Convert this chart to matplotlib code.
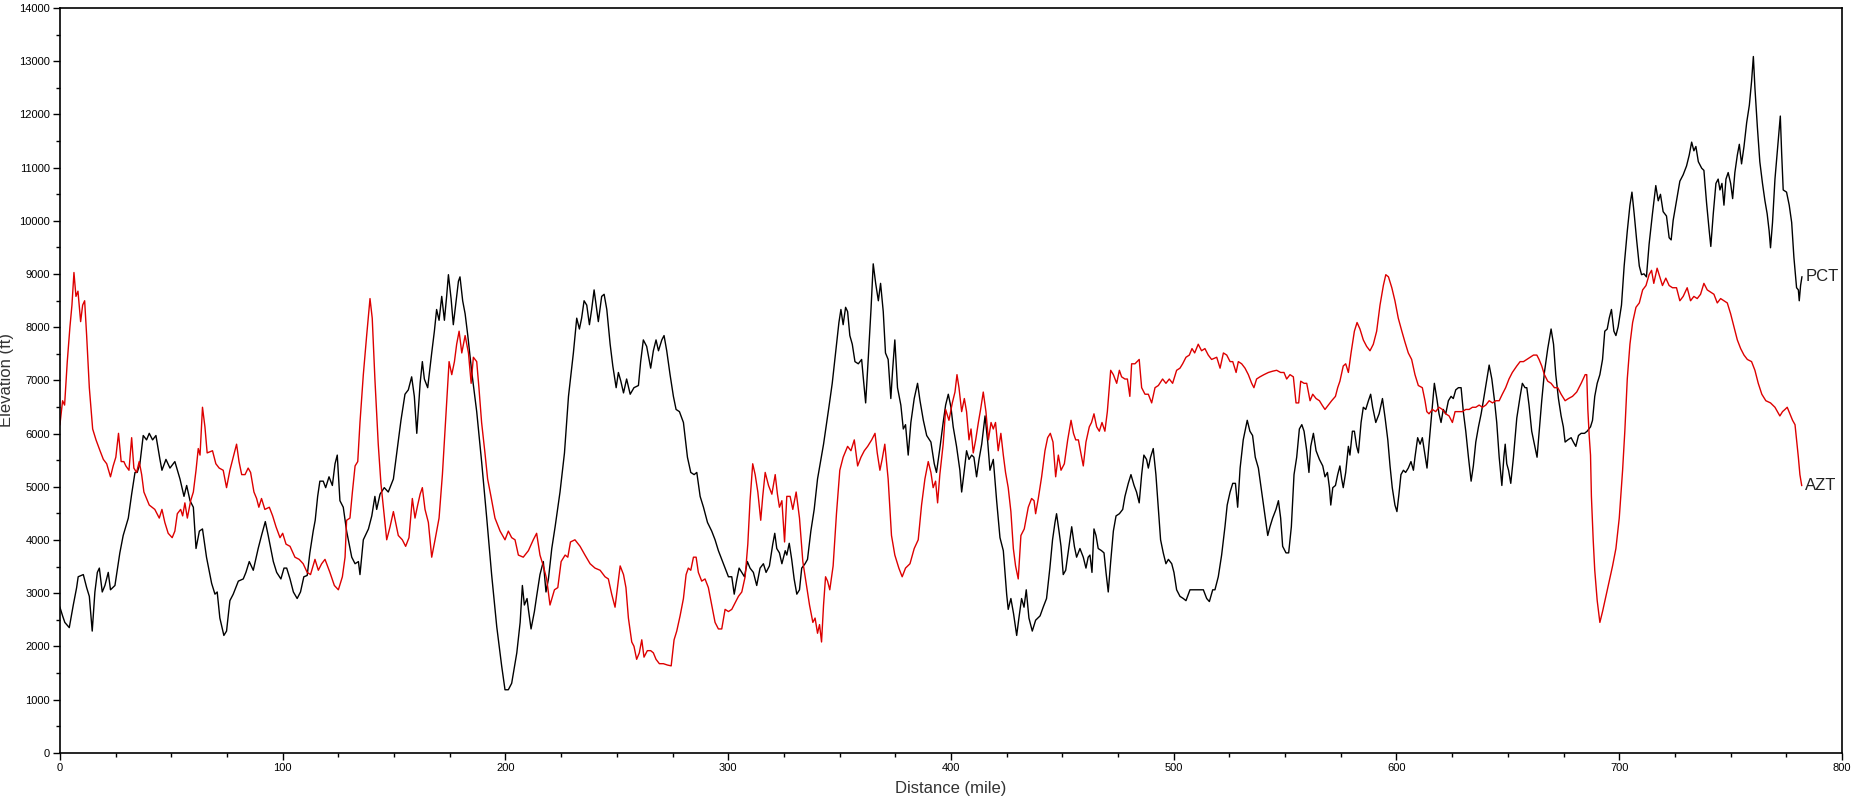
import matplotlib
matplotlib.use('Agg')
import matplotlib.pyplot as plt
from matplotlib.ticker import MultipleLocator

plt.rcParams['font.family'] = ['Liberation Sans', 'DejaVu Sans']

# PCT (black) elevation profile
pct_mile = [0, 1.2, 2.2, 4.2, 6, 7.5, 8.2, 10.5, 12, 13.2, 14.5, 15.7, 16.8, 17.7, 19, 20.2, 21.7, 22.7, 24.7,
            26.9, 28.4, 30.7, 32.2, 33.7, 34.7, 35.9, 37.4, 38.9, 40.1, 41.6, 43.1, 44.9, 45.8, 47.6, 49.4, 51.6,
            53.9, 55.7, 56.9, 58.4, 59.9, 61.1, 62.6, 64, 65.8, 68.1, 69.6, 70.6, 71.8, 73.6, 74.8, 76.3, 77.8,
            80.1, 82.3, 83.5, 85, 86.8, 89, 90.5, 92.2, 93.5, 95.8, 97.3, 99.2, 100.6, 101.8, 103.3, 104.8, 106.5,
            108, 109.5, 111, 112.2, 113.7, 114.6, 115.7, 116.7, 118.2, 119.3, 120.8, 122.3, 123.5, 124.5, 125.7,
            127.2, 128.7, 131, 132.5, 134, 134.7, 136.2, 138.5, 140, 141.4, 142.2, 143.7, 145.6, 147.4, 149.7,
            151.2, 153.1, 154.9, 156.4, 157.9, 159.1, 160.2, 161.7, 162.7, 163.6, 165.1, 166.9, 168.1, 169.1,
            170.2, 171.4, 172.6, 173.6, 174.4, 175.6, 176.6, 177.4, 178.9, 179.6, 180.8, 181.9, 183.1, 184.9,
            187.1, 189.3, 191.6, 193.8, 196.1, 198.3, 199.8, 201.3, 202.8, 205.1, 206.6, 207.6, 208.5, 209.7,
            210.3, 211.5, 213, 214, 215.5, 217, 218.2, 219.3, 220.8, 222.3, 224.5, 226.5, 228.3, 230.5, 232,
            233.2, 234.2, 235.3, 236.5, 237.7, 238.7, 239.8, 241, 241.7, 243.2, 244.3, 245.5, 247, 248.2, 249.7,
            250.7, 251.8, 253, 254.4, 256, 257.7, 259.7, 260.7, 261.9, 263.4, 265.2, 266.4, 267.6, 268.7, 270.2,
            271.2, 272.4, 273.9, 275.4, 276.6, 278.1, 279.9, 281.7, 283.2, 284.7, 285.9, 287.4, 288.9, 290.7,
            292.6, 294.1, 295.6, 297.1, 298.6, 300.1, 301.6, 302.7, 303.9, 304.9, 306.1, 307.3, 308.6, 309.8,
            311.3, 312.8, 314.3, 315.8, 317, 318.5, 320, 320.9, 321.8, 323, 324.1, 325.6, 326.3, 327.4, 328.5,
            329.6, 330.8, 332, 333, 334.5, 335.6, 337.1, 338.6, 340.1, 341.6, 342.8, 345.2, 346.7, 348.2, 349.7,
            350.6, 351.6, 352.7, 353.6, 354.6, 355.7, 356.9, 358.4, 359.9, 360.6, 361.7, 362.9, 364.1, 365.1,
            366.2, 367.4, 368.4, 369.6, 370.6, 371.8, 373, 373.8, 374.8, 376, 377.5, 378.6, 379.6, 380.8, 382,
            383.5, 385, 386.1, 387.6, 389.1, 391, 392.5, 393.5, 395, 396.5, 397.6, 398.8, 400, 401, 402.5, 404,
            404.8, 406, 407, 408.1, 409.3, 410.3, 411.5, 412.6, 413.8, 415.3, 416.5, 417.5, 419, 420.5, 422,
            423.5, 425, 425.7, 426.9, 428.1, 429.5, 430.5, 431.7, 432.8, 433.8, 435, 436.5, 438, 440, 441.4,
            442.9, 444.4, 445.6, 446.7, 447.4, 448.5, 449.4, 450.4, 451.5, 452.7, 454.2, 455.4, 456.4, 457.9,
            459.4, 460.6, 461.6, 462.4, 463.3, 464.2, 465.1, 466.1, 467.6, 468.7, 469.6, 470.6, 471.7, 472.9,
            474.1, 475.6, 477.1, 478.1, 479.6, 480.8, 482.2, 483.3, 484.5, 485.6, 486.6, 487.8, 488.6, 489.6,
            490.8, 492, 493.1, 494.1, 495.3, 496.5, 497.6, 499.1, 500.1, 501.3, 502.8, 504.3, 505.5, 507.3,
            509.5, 511.8, 513.3, 514.8, 516, 517.5, 518.5, 520, 521.5, 523, 524, 525.3, 526.5, 527.7, 528.7,
            529.8, 531.2, 533, 534.2, 535.4, 536.6, 538, 539.5, 541, 542.2, 543.2, 544.4, 545.9, 547, 548,
            548.9, 550.4, 551.6, 552.8, 554, 555.2, 556.4, 557.5, 558.5, 559.7, 560.7, 561.5, 562.7, 563.9,
            565.4, 566.9, 567.9, 569, 569.9, 570.5, 571.4, 572.6, 573.6, 574.6, 575.4, 576.1, 577.2, 578.4,
            579.1, 580.2, 581.1, 582.1, 582.9, 584.1, 585.1, 586.2, 587.4, 588.4, 589.3, 590.7, 592.2, 593.7,
            594.9, 596.1, 597.1, 598.1, 599.3, 600.2, 601.1, 602, 603.1, 604.1, 605.3, 606.5, 607.6, 608.3,
            609.5, 610.6, 611.6, 612.8, 613.7, 614.6, 615.8, 617, 618.1, 619.1, 620, 621, 622.1, 623.3, 624.5,
            625.5, 626.6, 627.8, 629, 630, 631.1, 632.3, 633.5, 634.5, 635.6, 636.8, 638, 639, 640.1, 641.6,
            642.8, 644, 645, 646.1, 647.3, 648.2, 648.8, 649.5, 650.3, 651.3, 652.5, 654, 655.5, 656.5, 657.7,
            658.5, 659.5, 660.7, 661.9, 663.1, 664, 665.2, 666.4, 667.9, 669.4, 670.5, 671.5, 672.7, 673.9,
            674.9, 675.7, 676.9, 678.4, 679.4, 680.5, 681.7, 682.9, 684.4, 685.6, 687.1, 688, 689, 690.1, 691.3,
            692.5, 693.5, 694.6, 695.5, 696.5, 697.6, 698.5, 699.5, 701, 702.2, 703.6, 704.8, 705.7, 706.7,
            707.8, 709, 710, 711.1, 712.2, 713.4, 714.9, 716.4, 717.5, 718.5, 719.7, 721.2, 722.4, 723.3, 724.2,
            725.7, 727.2, 728.7, 730.2, 731.4, 732.5, 733.5, 734.4, 735.5, 737, 738, 739.2, 740.4, 741.1, 742.2,
            743.4, 744.4, 745.2, 746.1, 747, 747.9, 748.9, 750, 750.9, 751.9, 753, 753.9, 754.9, 756, 757.2,
            758.4, 759.4, 760.2, 760.9, 762, 763.1, 764.3, 765.4, 766.4, 767.3, 767.9, 768.8, 769.9, 770.9,
            771.8, 772.3, 772.9, 773.6, 775.1, 776.3, 777.4, 778.4, 779.6, 780.4, 780.8, 781.4, 782]
pct_elev = [2737, 2574, 2451, 2353, 2778, 3105, 3309, 3350, 3105, 2941, 2288, 3023, 3391, 3472, 3023, 3145, 3391,
            3064, 3145, 3758, 4085, 4412, 4861, 5270, 5270, 5433, 5964, 5882, 6005, 5882, 5964, 5515, 5311, 5515,
            5352, 5474, 5147, 4820, 5025, 4739, 4616, 3840, 4167, 4208, 3677, 3186, 2982, 3023, 2533, 2206, 2288,
            2860, 2982, 3227, 3268, 3391, 3595, 3431, 3840, 4085, 4346, 4085, 3595, 3391, 3268, 3472, 3472, 3268,
            3023, 2900, 3023, 3309, 3333, 3758, 4167, 4371, 4820, 5106, 5106, 4984, 5188, 5025, 5433, 5596, 4739,
            4616, 4167, 3677, 3554, 3595, 3350, 4004, 4208, 4453, 4820, 4575, 4861, 4984, 4902, 5147, 5637, 6250,
            6740, 6822, 7067, 6700, 6005, 6945, 7353, 7026, 6863, 7516, 7925, 8333, 8130, 8579, 8130, 8579, 8987,
            8538, 8047, 8333, 8864, 8946, 8497, 8252, 7843, 7149, 6413, 5474, 4412, 3350, 2369, 1634, 1185, 1185,
            1307, 1879, 2451, 3145, 2778, 2900, 2696, 2328, 2655, 2941, 3350, 3595, 3023, 3268, 3840, 4249, 4902,
            5637, 6700, 7516, 8170, 7966, 8170, 8497, 8415, 8047, 8333, 8701, 8333, 8105, 8579, 8619, 8333, 7680,
            7271, 6863, 7149, 6986, 6765, 7026, 6740, 6863, 6904, 7353, 7761, 7639, 7230, 7557, 7761, 7557, 7761,
            7843, 7557, 7108, 6700, 6454, 6413, 6209, 5556, 5270, 5229, 5270, 4820, 4616, 4330, 4167, 4004, 3799,
            3636, 3472, 3309, 3309, 2982, 3268, 3472, 3391, 3309, 3595, 3472, 3391, 3145, 3472, 3554, 3391, 3513,
            3922, 4126, 3840, 3758, 3554, 3799, 3717, 3938, 3636, 3268, 2982, 3064, 3472, 3554, 3636, 4167, 4575,
            5147, 5515, 5801, 6495, 6945, 7516, 8088, 8333, 8047, 8374, 8293, 7843, 7680, 7353, 7312, 7394, 7067,
            6577, 7435, 8333, 9191, 8824, 8497, 8824, 8293, 7516, 7394, 6659, 7190, 7761, 6863, 6536, 6087, 6168,
            5596, 6209, 6659, 6945, 6618, 6250, 5964, 5841, 5433, 5270, 5719, 6209, 6536, 6740, 6495, 6127, 5760,
            5311, 4902, 5311, 5678, 5515, 5596, 5556, 5188, 5515, 5801, 6332, 5841, 5311, 5515, 4739, 4044, 3799,
            2982, 2696, 2900, 2614, 2206, 2533, 2900, 2737, 3064, 2533, 2288, 2492, 2574, 2737, 2900, 3472, 4004,
            4330, 4494, 4167, 3881, 3350, 3431, 3799, 4249, 3881, 3677, 3840, 3677, 3472, 3677, 3717, 3391, 4208,
            4085, 3840, 3799, 3758, 3391, 3023, 3595, 4167, 4453, 4494, 4575, 4820, 5065, 5229, 5025, 4902, 4698,
            5229, 5596, 5515, 5352, 5556, 5719, 5229, 4575, 4004, 3758, 3554, 3636, 3554, 3391, 3064, 2941, 2900,
            2860, 3064, 3064, 3064, 3064, 2900, 2843, 3064, 3064, 3309, 3717, 4249, 4657, 4902, 5065, 5065, 4616,
            5352, 5882, 6250, 6045, 5964, 5556, 5352, 4902, 4453, 4085, 4249, 4412, 4575, 4739, 4412, 3881, 3758,
            3758, 4249, 5229, 5556, 6087, 6168, 6045, 5678, 5270, 5760, 6005, 5678, 5515, 5392, 5188, 5270, 4984,
            4657, 4984, 5025, 5229, 5392, 5147, 4984, 5270, 5760, 5596, 6045, 6045, 5760, 5637, 6209, 6495, 6454,
            6618, 6740, 6495, 6209, 6372, 6659, 6291, 5882, 5392, 4984, 4657, 4534, 4861, 5229, 5311, 5270, 5352,
            5474, 5311, 5556, 5923, 5801, 5923, 5596, 5352, 5801, 6372, 6945, 6659, 6372, 6209, 6454, 6372, 6618,
            6700, 6659, 6822, 6863, 6863, 6413, 6045, 5556, 5106, 5392, 5841, 6127, 6372, 6618, 6904, 7288, 7026,
            6618, 6209, 5556, 5025, 5556, 5801, 5433, 5311, 5065, 5556, 6291, 6700, 6945, 6863, 6863, 6536, 6045,
            5801, 5556, 6005, 6618, 7149, 7598, 7966, 7680, 7108, 6659, 6332, 6127, 5841, 5882, 5923, 5841, 5760,
            5964, 6005, 6005, 6045, 6127, 6250, 6700, 6945, 7108, 7394, 7925, 7966, 8170, 8333, 7925, 7843, 8007,
            8415, 9150, 9804, 10294, 10539, 10131, 9641, 9150, 8987, 9003, 8946, 9559, 10131, 10662, 10376, 10498,
            10172, 10090, 9682, 9641, 10008, 10376, 10744, 10866, 11030, 11234, 11479, 11316, 11397, 11111, 10989,
            10948, 10335, 9804, 9518, 10131, 10703, 10784, 10580, 10703, 10294, 10784, 10907, 10703, 10417, 10907,
            11234, 11438, 11070, 11397, 11846, 12173, 12622, 13088, 12500, 11764, 11111, 10703, 10376, 10131, 9804,
            9493, 9968, 10784, 11274, 11724, 11969, 11274, 10580, 10539, 10294, 9968, 9314, 8742, 8701, 8497, 8783,
            8946]

# AZT (red) elevation profile
azt_mile = [0, 1.2, 2.1, 3.3, 4.5, 5.4, 6.3, 7.2, 8.1, 9.3, 10.2, 11.1, 12, 13.2, 14.7, 16.2, 18, 19.5, 21, 22.7,
            23.9, 25.1, 26.3, 27.5, 28.7, 29.6, 31, 32.2, 33.2, 34.4, 35.6, 36.7, 37.7, 40.1, 42.6, 44.6, 45.8,
            47.1, 48.6, 50.4, 51.6, 52.7, 54.2, 55.1, 56.1, 57.2, 58.7, 59.9, 61.1, 62.1, 62.9, 64, 65.1, 66.1,
            68.5, 70, 71.5, 73.3, 74.8, 76.3, 77.8, 79.3, 80.4, 81.6, 83.1, 84.5, 85.6, 87.1, 88.3, 89.3, 90.5,
            92, 94, 95.5, 97, 98.8, 100, 101.5, 103.3, 105.5, 107.4, 109.2, 111, 112.5, 114.5, 116, 117.5, 119,
            121.2, 123.2, 125, 126.8, 128, 128.7, 130.2, 131.3, 132.5, 133.7, 134.7, 136.2, 137.7, 139.2, 140.2,
            141.4, 142.9, 144.1, 145.3, 146.7, 148.2, 149.7, 150.7, 151.9, 153.7, 155.2, 156.7, 158.2, 159.4,
            160.6, 161.7, 162.7, 163.9, 165.4, 166.9, 168.4, 170.2, 171.7, 173.2, 174.7, 175.9, 177.1, 178.1,
            179.2, 180.4, 181.9, 183.4, 184.6, 185.6, 187.1, 188.1, 189.3, 190.8, 192, 193.5, 195.3, 197.6,
            199.8, 201.3, 202.8, 204.3, 205.8, 208, 210.3, 212.5, 214, 215.5, 217, 218.5, 220, 222, 223.5, 225,
            226.8, 228, 229.2, 231.2, 233.5, 235.7, 238, 240.2, 242.5, 244.7, 246.2, 247.7, 249.2, 250.3, 251.5,
            253, 254.1, 255.2, 256.7, 257.7, 258.9, 260.1, 261.2, 262.2, 263.7, 265.2, 266.4, 267.6, 269.1,
            270.9, 272.7, 274.4, 275.7, 276.9, 278.4, 279.9, 281.1, 282.1, 283.2, 284.4, 285.6, 286.6, 288.1,
            289.6, 291.1, 292.6, 294.1, 295.6, 297.1, 298.6, 300.1, 301.6, 303.1, 304.6, 306.1, 307.6, 308.8,
            309.8, 311, 312.1, 313.3, 314.6, 315.5, 316.6, 318.1, 319.6, 321.1, 322.1, 323, 324.1, 325.3, 326.3,
            327.8, 329, 330.5, 332, 333.5, 335, 336.5, 338, 339, 340.1, 341, 341.9, 342.8, 343.7, 344.6, 345.6,
            347.1, 348.6, 350.1, 351.6, 353.6, 355.1, 356.6, 358.1, 359.6, 361.1, 362.6, 364.4, 365.9, 366.9,
            368.1, 369.1, 370.3, 371.8, 373.3, 374.8, 376.6, 378.1, 379.6, 381.6, 383.5, 385.3, 386.8, 388.3,
            389.8, 391, 392, 393.1, 394, 395, 396.5, 397.6, 399.1, 400.6, 401.8, 402.7, 403.6, 404.8, 406, 407,
            408.1, 409, 410, 411.1, 412.3, 413.3, 414.5, 415.7, 416.8, 418, 419, 420, 421.2, 422.4, 423.5, 424.5,
            425.7, 426.9, 428, 429, 430.2, 431.4, 432.9, 434.7, 436.2, 437.3, 438, 439.2, 440.7, 442.2, 443.4,
            444.6, 445.8, 447, 448.2, 449.4, 450.9, 452.4, 453.9, 455, 456, 457.2, 458.1, 459.4, 460.6, 462.1,
            463.1, 464.2, 465.4, 466.6, 467.8, 469.1, 470.2, 471.7, 472.9, 474.4, 475.6, 476.6, 478.1, 479.2,
            480.3, 481.1, 482.6, 484.5, 485.6, 487.1, 488.6, 490.1, 491.6, 493.1, 495, 496.5, 498, 499.5, 501.3,
            502.8, 504, 505.5, 507, 508.2, 509.4, 511, 512.5, 514, 515.5, 517, 519.3, 520.8, 522.3, 523.8, 525.3,
            526.5, 528, 529, 530.5, 532, 533.5, 535, 536, 537.2, 538.7, 540.5, 542.5, 544.4, 546.2, 548, 549.5,
            550.7, 552.2, 553.7, 554.9, 556.1, 557, 558.5, 559.7, 561.2, 562.4, 563.9, 565.4, 566.6, 567.9,
            569.4, 570.9, 572.6, 573.6, 574.6, 576.1, 577.2, 578.4, 579.6, 581.1, 582.3, 583.6, 585.1, 586.6,
            588.1, 589.6, 591.1, 592.6, 594.1, 595.2, 596.4, 597.9, 599.3, 600.8, 602.4, 603.8, 605.3, 606.8,
            608.3, 609.8, 611.6, 612.8, 613.6, 614.6, 616.1, 617.6, 619.1, 620.6, 622.1, 623.6, 625.1, 626.3,
            628.1, 629.6, 631.1, 632.6, 634.1, 635.6, 637.1, 638.6, 640.1, 641.6, 643.1, 644.6, 646.1, 647.5,
            649, 650.5, 652, 654, 655.5, 657, 658.5, 660, 661.5, 663, 664, 665.2, 666.4, 667.9, 669.4, 670.9,
            672.4, 673.9, 675.7, 677.2, 679, 680.9, 682.9, 684.7, 685.4, 685.9, 686.5, 687.1, 687.5, 688.3, 689,
            690.1, 691.3, 692.5, 694, 695.5, 697, 698.5, 700, 701.5, 702.5, 703.6, 704.8, 706, 707.5, 709, 710.5,
            712, 713.4, 714.5, 715.5, 717, 718.2, 719.4, 720.9, 722.4, 723.9, 725.7, 727.2, 728.7, 730.5, 732,
            733.5, 735, 736.5, 738, 739.5, 741, 742.5, 744, 745.5, 747, 748.5, 750, 751.5, 753, 754.5, 756, 757.5,
            759.4, 760.9, 762.4, 764, 765.8, 767.9, 769.9, 772.1, 773.3, 774.4, 775.4, 776.6, 777.8, 778.9,
            779.6, 780.4, 781.1, 781.9]
azt_elev = [6168, 6618, 6536, 7353, 8007, 8415, 9028, 8579, 8677, 8105, 8415, 8497, 7843, 6863, 6087, 5882, 5678,
            5515, 5433, 5188, 5392, 5556, 6005, 5474, 5474, 5392, 5311, 5923, 5352, 5270, 5474, 5229, 4902, 4657,
            4575, 4412, 4575, 4330, 4126, 4044, 4167, 4494, 4575, 4453, 4698, 4412, 4739, 4902, 5311, 5719, 5596,
            6495, 6127, 5637, 5678, 5433, 5352, 5311, 4984, 5311, 5556, 5801, 5474, 5229, 5229, 5352, 5270, 4902,
            4780, 4616, 4780, 4575, 4616, 4453, 4249, 4044, 4126, 3922, 3881, 3677, 3636, 3554, 3391, 3350, 3636,
            3431, 3554, 3636, 3391, 3145, 3064, 3309, 3677, 4371, 4412, 4902, 5392, 5474, 6209, 7108, 7843, 8538,
            8170, 7026, 5801, 5065, 4575, 4004, 4249, 4534, 4330, 4085, 4004, 3881, 4044, 4780, 4412, 4657, 4861,
            4984, 4575, 4330, 3677, 4004, 4412, 5229, 6291, 7353, 7108, 7353, 7680, 7925, 7516, 7843, 7516, 6945,
            7435, 7353, 6863, 6209, 5637, 5147, 4820, 4412, 4167, 4004, 4167, 4044, 4004, 3717, 3677, 3799, 4004,
            4126, 3717, 3513, 3268, 2778, 3064, 3105, 3595, 3717, 3677, 3963, 4004, 3881, 3717, 3554, 3472, 3431,
            3309, 3268, 2982, 2737, 3105, 3513, 3350, 3105, 2533, 2083, 2002, 1757, 1879, 2124, 1798, 1920, 1920,
            1879, 1757, 1675, 1675, 1650, 1634, 2124, 2288, 2574, 2900, 3350, 3472, 3431, 3677, 3677, 3391, 3227,
            3268, 3105, 2778, 2451, 2328, 2328, 2696, 2655, 2696, 2819, 2941, 3023, 3309, 3922, 4739, 5433, 5229,
            4902, 4371, 4820, 5270, 5025, 4861, 5229, 4861, 4616, 4739, 3963, 4820, 4820, 4575, 4902, 4412, 3595,
            3186, 2778, 2451, 2533, 2247, 2410, 2083, 2778, 3309, 3227, 3064, 3513, 4494, 5311, 5556, 5760, 5678,
            5882, 5392, 5556, 5678, 5760, 5882, 6005, 5637, 5311, 5515, 5801, 5147, 4085, 3717, 3472, 3309, 3472,
            3554, 3840, 4004, 4657, 5147, 5474, 5270, 4984, 5106, 4698, 5229, 5801, 6454, 6250, 6577, 6781, 7108,
            6863, 6413, 6659, 6413, 5882, 6087, 5637, 5882, 6209, 6454, 6781, 6413, 5882, 6209, 6087, 6209, 5678,
            6005, 5596, 5270, 4984, 4534, 3840, 3513, 3268, 4085, 4208, 4616, 4780, 4739, 4494, 4780, 5188, 5678,
            5923, 6005, 5841, 5188, 5596, 5311, 5433, 5882, 6250, 6005, 5882, 5882, 5678, 5392, 5841, 6127, 6209,
            6372, 6127, 6045, 6209, 6045, 6413, 7190, 7108, 6945, 7190, 7067, 7026, 7026, 6700, 7312, 7312, 7394,
            6863, 6740, 6740, 6577, 6863, 6904, 7026, 6945, 7026, 6945, 7190, 7230, 7312, 7435, 7476, 7598, 7516,
            7680, 7557, 7598, 7476, 7394, 7435, 7230, 7516, 7476, 7353, 7353, 7149, 7353, 7312, 7230, 7108, 6945,
            6863, 7026, 7067, 7108, 7149, 7173, 7190, 7149, 7149, 7026, 7108, 7067, 6577, 6577, 6985, 6945, 6945,
            6618, 6740, 6659, 6618, 6536, 6454, 6536, 6618, 6700, 6863, 6985, 7271, 7312, 7149, 7516, 7925, 8088,
            7966, 7761, 7639, 7557, 7680, 7925, 8415, 8783, 8987, 8946, 8742, 8497, 8170, 7925, 7720, 7516, 7394,
            7108, 6904, 6863, 6618, 6413, 6372, 6454, 6413, 6495, 6454, 6372, 6332, 6209, 6413, 6413, 6413, 6454,
            6454, 6495, 6495, 6536, 6495, 6536, 6618, 6577, 6618, 6618, 6740, 6863, 7026, 7149, 7271, 7353, 7353,
            7394, 7435, 7476, 7476, 7394, 7271, 7108, 6985, 6945, 6863, 6863, 6740, 6618, 6659, 6700, 6781, 6945,
            7108, 7108, 6454, 5964, 5596, 4820, 4004, 3431, 2860, 2451, 2655, 2941, 3227, 3513, 3840, 4412, 5311,
            6045, 7026, 7680, 8088, 8374, 8456, 8701, 8783, 8987, 9069, 8824, 9109, 8946, 8783, 8922, 8783, 8742,
            8742, 8497, 8579, 8742, 8497, 8579, 8538, 8619, 8824, 8701, 8660, 8619, 8456, 8538, 8497, 8456, 8252,
            8007, 7761, 7598, 7476, 7394, 7353, 7190, 6945, 6740, 6618, 6577, 6495, 6332, 6413, 6454, 6495, 6372,
            6250, 6168, 5882, 5556, 5229, 5025]

fig = plt.figure(figsize=(18.55, 8), dpi=100)
ax = fig.add_axes([0.0323, 0.059, 0.9607, 0.931])

ax.plot(pct_mile, pct_elev, color='black', lw=1.0)
ax.plot(azt_mile, azt_elev, color='#dd0000', lw=1.0)

# end-of-line labels
ax.text(pct_mile[-1] + 1.5, pct_elev[-1], 'PCT', fontsize=12, va='center', ha='left', color='#222222')
ax.text(azt_mile[-1] + 1.5, azt_elev[-1], 'AZT', fontsize=12, va='center', ha='left', color='#222222')

ax.set_xlim(0, 800)
ax.set_ylim(0, 14000)
ax.xaxis.set_major_locator(MultipleLocator(100))
ax.xaxis.set_minor_locator(MultipleLocator(25))
ax.yaxis.set_major_locator(MultipleLocator(1000))
ax.yaxis.set_minor_locator(MultipleLocator(500))
ax.tick_params(which='major', direction='out', length=5, width=1, labelsize=8, pad=2)
ax.tick_params(which='minor', direction='out', length=3, width=1)
for s in ax.spines.values():
    s.set_linewidth(1.2)

ax.set_xlabel('Distance (mile)', fontsize=12, color='#333333', labelpad=6)
ax.set_ylabel('Elevation (ft)', fontsize=12, color='#333333')
ax.yaxis.set_label_coords(-0.0255, 0.5)

fig.savefig('out.png', dpi=100)
